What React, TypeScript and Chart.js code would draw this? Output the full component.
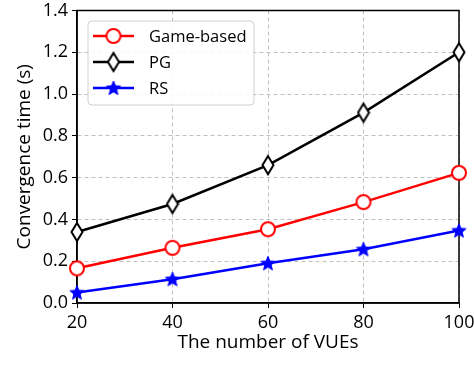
import React, { useEffect, useRef } from "react";
import { Chart, registerables } from "chart.js";
Chart.register(...registerables);

const vues = [20, 40, 60, 80, 100];
const gameBased = [0.166, 0.264, 0.353, 0.483, 0.623];
const pg = [0.34, 0.474, 0.66, 0.911, 1.2];
const rs = [0.05, 0.114, 0.19, 0.257, 0.347];
const seriesNames = ["Game-based", "PG", "RS"];
const xTitle = "The number of VUEs";
const yTitle = "Convergence time (s)";
const FONT = "'Open Sans', sans-serif";

function makeDiamond(): HTMLCanvasElement {
  const c = document.createElement("canvas");
  c.width = 14;
  c.height = 22;
  const g = c.getContext("2d")!;
  g.beginPath();
  g.moveTo(7, 2);
  g.lineTo(12.5, 11);
  g.lineTo(7, 20);
  g.lineTo(1.5, 11);
  g.closePath();
  g.fillStyle = "#ffffff";
  g.fill();
  g.lineWidth = 2;
  g.strokeStyle = "#000000";
  g.stroke();
  return c;
}

function makeCircle(): HTMLCanvasElement {
  const c = document.createElement("canvas");
  c.width = 20;
  c.height = 20;
  const g = c.getContext("2d")!;
  g.beginPath();
  g.arc(10, 10, 7, 0, Math.PI * 2);
  g.fillStyle = "#ffffff";
  g.fill();
  g.lineWidth = 2;
  g.strokeStyle = "#ff0000";
  g.stroke();
  return c;
}

function makeStar(): HTMLCanvasElement {
  const c = document.createElement("canvas");
  c.width = 18;
  c.height = 18;
  const g = c.getContext("2d")!;
  const cx = 9, cy = 9.5, ro = 7.5, ri = 3.3;
  g.beginPath();
  for (let i = 0; i < 10; i++) {
    const r = i % 2 === 0 ? ro : ri;
    const a = -Math.PI / 2 + (i * Math.PI) / 5;
    const px = cx + r * Math.cos(a);
    const py = cy + r * Math.sin(a);
    if (i === 0) g.moveTo(px, py);
    else g.lineTo(px, py);
  }
  g.closePath();
  g.fillStyle = "#0000ff";
  g.fill();
  g.lineWidth = 1;
  g.strokeStyle = "#0000ff";
  g.stroke();
  return c;
}

export default function App() {
  const ref = useRef<HTMLCanvasElement | null>(null);
  useEffect(() => {
    if (!ref.current) return;
    const circle = makeCircle();
    const diamond = makeDiamond();
    const star = makeStar();
    const colors = ["#ff0000", "#000000", "#0000ff"];
    const markers = [circle, diamond, star];
    const series = [gameBased, pg, rs];

    const framePlugin = {
      id: "frame",
      beforeDatasetsDraw(chart: any) {
        const { ctx, chartArea: a } = chart;
        ctx.save();
        ctx.strokeStyle = "#000000";
        ctx.lineWidth = 1.5;
        ctx.strokeRect(a.left, a.top, a.right - a.left, a.bottom - a.top);
        ctx.restore();
      },
    };

    const legendPlugin = {
      id: "customLegend",
      afterDraw(chart: any) {
        const { ctx, chartArea: a } = chart;
        const bx = a.left + 11, by = a.top + 10.5, bw = 166, bh = 84;
        ctx.save();
        ctx.beginPath();
        const r = 4;
        ctx.moveTo(bx + r, by);
        ctx.arcTo(bx + bw, by, bx + bw, by + bh, r);
        ctx.arcTo(bx + bw, by + bh, bx, by + bh, r);
        ctx.arcTo(bx, by + bh, bx, by, r);
        ctx.arcTo(bx, by, bx + bw, by, r);
        ctx.closePath();
        ctx.fillStyle = "rgba(255,255,255,0.85)";
        ctx.fill();
        ctx.strokeStyle = "#d0d0d0";
        ctx.lineWidth = 1;
        ctx.stroke();
        ctx.font = `16.5px ${FONT}`;
        ctx.textBaseline = "middle";
        ctx.textAlign = "left";
        for (let i = 0; i < 3; i++) {
          const y = by + 15 + i * 26;
          const x0 = bx + 5, x1 = bx + 46;
          ctx.beginPath();
          ctx.moveTo(x0, y);
          ctx.lineTo(x1, y);
          ctx.strokeStyle = colors[i];
          ctx.lineWidth = 2.5;
          ctx.stroke();
          const m = markers[i];
          ctx.drawImage(m, (x0 + x1) / 2 - m.width / 2, y - m.height / 2);
          ctx.fillStyle = "#000000";
          ctx.fillText(seriesNames[i], bx + 61, y + 1);
        }
        ctx.restore();
      },
    };

    const chart = new Chart(ref.current, {
      type: "line",
      data: {
        datasets: series.map((s, i) => ({
          label: seriesNames[i],
          data: s.map((v, j) => ({ x: vues[j], y: v })),
          borderColor: colors[i],
          backgroundColor: colors[i],
          borderWidth: 2.5,
          pointStyle: markers[i] as any,
          pointRadius: 8,
          pointHoverRadius: 8,
          clip: false as any,
          tension: 0,
        })),
      },
      options: {
        animation: false,
        responsive: false,
        events: [],
        layout: { padding: { top: 5.5, right: 15, left: 8, bottom: 22 } },
        plugins: { legend: { display: false }, tooltip: { enabled: false } },
        scales: {
          x: {
            type: "linear",
            min: 20,
            max: 100,
            ticks: { stepSize: 20, color: "#000", font: { family: FONT, size: 18 }, padding: 4 },
            grid: {
              color: "#c0c0c0",
              borderDash: [4, 3],
              tickBorderDash: [],
              tickColor: "#000",
              tickLength: 5,
              lineWidth: 1,
            } as any,
            border: { display: true, color: "#000", width: 1.5, dash: [4, 3] } as any,
            title: { display: true, text: xTitle, color: "#000", font: { family: FONT, size: 19 }, padding: { top: 0, bottom: 0 } },
            afterFit(scale: any) {
              scale.height = 51;
              scale.paddingLeft = 0;
              scale.paddingRight = 0;
            },
          },
          y: {
            min: 0,
            max: 1.4,
            ticks: {
              stepSize: 0.2,
              color: "#000",
              font: { family: FONT, size: 18 },
              padding: 4,
              callback: (v: any) => Number(v).toFixed(1),
            },
            grid: {
              color: "#c0c0c0",
              borderDash: [4, 3],
              tickBorderDash: [],
              tickColor: "#000",
              tickLength: 5,
              lineWidth: 1,
            } as any,
            border: { display: true, color: "#000", width: 1.5, dash: [4, 3] } as any,
            title: { display: true, text: yTitle, color: "#000", font: { family: FONT, size: 19 }, padding: { top: 5, bottom: 0 } },
            afterFit(scale: any) {
              scale.width = 69;
              scale.paddingTop = 0;
              scale.paddingBottom = 0;
            },
          },
        },
      },
      plugins: [framePlugin, legendPlugin],
    });
    return () => chart.destroy();
  }, []);
  return (
    <div style={{ position: "absolute", left: 0, top: 0, width: 474, height: 376, background: "#fff" }}>
      <canvas ref={ref} width={474} height={376} style={{ width: 474, height: 376, display: "block" }} />
    </div>
  );
}
